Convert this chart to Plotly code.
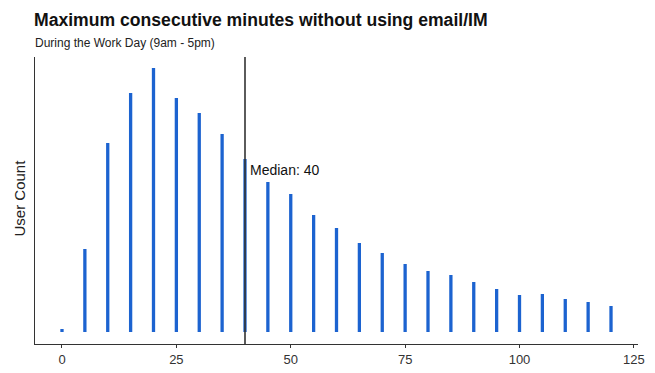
import plotly.graph_objects as go

minutes = [0, 5, 10, 15, 20, 25, 30, 35, 40, 45, 50, 55, 60, 65, 70, 75, 80, 85, 90, 95, 100, 105, 110, 115, 120]
user_count = [3, 83, 189, 239, 264, 234, 219, 198, 173, 150, 138, 117, 104, 89, 79, 68, 61, 57, 50, 43, 37, 38, 33, 30, 26]
median_value = 40
x_ticks = [0, 25, 50, 75, 100, 125]

xs, ys = [], []
for m, c in zip(minutes, user_count):
    xs += [m, m, None]
    ys += [0, c, None]

fig = go.Figure()
fig.add_trace(go.Scatter(x=xs, y=ys, mode="lines",
                         line=dict(color="#1c63d0", width=3.3),
                         hoverinfo="skip", showlegend=False))

fig.add_shape(type="line", x0=median_value, x1=median_value, y0=0, y1=1,
              xref="x", yref="paper", line=dict(color="#333333", width=1.6))

fig.add_annotation(x=median_value + 0.6, y=162, xref="x", yref="y",
                   text=f"Median: {median_value}", showarrow=False,
                   xanchor="left", yanchor="middle",
                   font=dict(size=14, color="#111111", family="Liberation Sans"))

fig.add_annotation(x=-0.0035, y=1.0488, xref="paper", yref="paper",
                   text="During the Work Day (9am - 5pm)", showarrow=False,
                   xanchor="left", yanchor="middle",
                   font=dict(size=12, color="#222222", family="Liberation Sans"))

fig.add_annotation(x=-0.0265, y=0.507, xref="paper", yref="paper",
                   text="User Count", showarrow=False, textangle=-90,
                   xanchor="center", yanchor="middle",
                   font=dict(size=15, color="#222222", family="Liberation Sans"))

fig.update_layout(
    width=655, height=373,
    margin=dict(l=35, r=17, t=57, b=29, autoexpand=False),
    paper_bgcolor="white", plot_bgcolor="white",
    title=dict(text="<b>Maximum consecutive minutes without using email/IM</b>",
               x=34/655, xanchor="left", xref="container",
               y=1 - 20/373, yanchor="middle", yref="container",
               font=dict(size=17.6, color="#111111", family="Liberation Sans")),
    xaxis=dict(range=[-5.9, 125.9], tickvals=x_ticks, ticks="outside", ticklen=3,
               tickcolor="#333333", showline=True, linecolor="#333333", linewidth=1.3,
               showgrid=False, zeroline=False, automargin=False,
               tickfont=dict(size=13, color="#333333", family="Liberation Sans")),
    yaxis=dict(range=[-12, 275], showticklabels=False, ticks="", showline=True,
               linecolor="#333333", linewidth=1.3, showgrid=False, zeroline=False,
               automargin=False),
)

fig.write_html("out.html", config={"displayModeBar": False},
               post_script="document.body.style.margin='0';document.body.style.padding='0';")
